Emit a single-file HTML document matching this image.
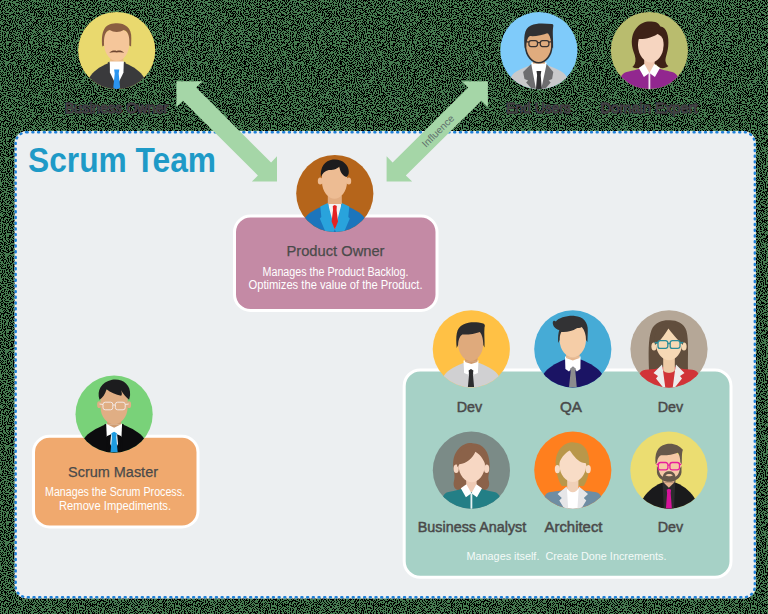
<!DOCTYPE html>
<html lang="en"><head><meta charset="utf-8"><title>Scrum Team</title>
<style>html,body{margin:0;padding:0;background:#000;}body{width:768px;height:614px;overflow:hidden;font-family:"Liberation Sans", sans-serif;}svg{display:block}</style>
</head><body>
<svg width="768" height="614" viewBox="0 0 768 614" font-family='"Liberation Sans", sans-serif'>
<defs>
<clipPath id="cc"><circle r="38.6"/></clipPath>
</defs>
<pattern id="nzp" width="96" height="96" patternUnits="userSpaceOnUse"><rect width="96" height="96" fill="#467a50"/><path d="M0 0.5h2M9 0.5h2M13 0.5h3M18 0.5h1M22 0.5h1M24 0.5h2M27 0.5h2M30 0.5h1M36 0.5h1M39 0.5h1M41 0.5h1M44 0.5h1M46 0.5h1M49 0.5h1M51 0.5h1M53 0.5h1M55 0.5h1M58 0.5h1M60 0.5h1M63 0.5h1M65 0.5h1M68 0.5h1M71 0.5h1M73 0.5h1M75 0.5h4M80 0.5h2M84 0.5h2M90 0.5h3M94 0.5h1M0 1.5h1M4 1.5h2M7 1.5h1M12 1.5h1M19 1.5h3M24 1.5h1M26 1.5h1M29 1.5h1M32 1.5h1M41 1.5h1M45 1.5h1M47 1.5h1M49 1.5h1M51 1.5h1M53 1.5h1M55 1.5h1M57 1.5h1M62 1.5h1M65 1.5h1M67 1.5h2M70 1.5h1M72 1.5h1M75 1.5h1M77 1.5h1M79 1.5h1M86 1.5h1M88 1.5h1M92 1.5h1M94 1.5h1M2 2.5h1M4 2.5h1M9 2.5h1M16 2.5h3M21 2.5h1M23 2.5h1M25 2.5h1M27 2.5h1M30 2.5h2M34 2.5h1M36 2.5h1M38 2.5h1M44 2.5h1M48 2.5h1M51 2.5h1M54 2.5h1M57 2.5h2M60 2.5h1M62 2.5h2M68 2.5h1M73 2.5h2M80 2.5h2M83 2.5h1M85 2.5h1M88 2.5h1M90 2.5h1M93 2.5h1M95 2.5h1M1 3.5h1M4 3.5h1M6 3.5h1M8 3.5h3M12 3.5h1M19 3.5h1M21 3.5h1M26 3.5h1M28 3.5h1M31 3.5h1M33 3.5h1M35 3.5h2M39 3.5h2M42 3.5h2M45 3.5h1M50 3.5h1M53 3.5h1M56 3.5h2M59 3.5h1M61 3.5h1M65 3.5h1M67 3.5h1M70 3.5h1M75 3.5h1M80 3.5h3M87 3.5h1M89 3.5h2M93 3.5h2M1 4.5h3M8 4.5h1M10 4.5h1M13 4.5h2M21 4.5h1M24 4.5h1M30 4.5h2M34 4.5h1M36 4.5h3M40 4.5h1M45 4.5h1M47 4.5h2M50 4.5h1M54 4.5h1M57 4.5h1M62 4.5h1M64 4.5h2M67 4.5h1M70 4.5h3M75 4.5h1M78 4.5h2M83 4.5h1M86 4.5h2M91 4.5h2M94 4.5h1M0 5.5h1M4 5.5h1M6 5.5h1M8 5.5h1M10 5.5h1M14 5.5h1M18 5.5h2M22 5.5h2M26 5.5h2M29 5.5h1M33 5.5h1M38 5.5h1M41 5.5h1M43 5.5h1M50 5.5h1M53 5.5h1M58 5.5h1M63 5.5h1M68 5.5h2M73 5.5h1M75 5.5h2M78 5.5h1M80 5.5h1M82 5.5h3M87 5.5h1M90 5.5h1M92 5.5h1M0 6.5h1M3 6.5h2M11 6.5h1M13 6.5h1M15 6.5h2M18 6.5h1M20 6.5h1M24 6.5h1M27 6.5h1M31 6.5h1M34 6.5h1M37 6.5h1M43 6.5h1M45 6.5h1M47 6.5h2M50 6.5h2M53 6.5h1M55 6.5h1M59 6.5h1M61 6.5h1M64 6.5h2M67 6.5h2M73 6.5h2M79 6.5h1M81 6.5h1M86 6.5h1M89 6.5h1M95 6.5h1M0 7.5h1M2 7.5h1M6 7.5h2M12 7.5h1M14 7.5h1M17 7.5h1M21 7.5h1M25 7.5h2M30 7.5h2M33 7.5h1M40 7.5h3M44 7.5h1M46 7.5h1M51 7.5h1M53 7.5h1M56 7.5h1M59 7.5h1M63 7.5h1M65 7.5h5M78 7.5h2M82 7.5h2M86 7.5h1M88 7.5h3M92 7.5h3M2 8.5h1M5 8.5h1M9 8.5h1M11 8.5h1M13 8.5h1M16 8.5h1M18 8.5h2M22 8.5h1M24 8.5h1M27 8.5h1M30 8.5h1M32 8.5h2M36 8.5h1M38 8.5h2M42 8.5h1M44 8.5h3M49 8.5h1M54 8.5h4M62 8.5h1M70 8.5h5M77 8.5h1M84 8.5h1M88 8.5h1M94 8.5h1M0 9.5h1M2 9.5h2M7 9.5h2M10 9.5h1M14 9.5h1M16 9.5h1M19 9.5h3M23 9.5h1M26 9.5h1M28 9.5h1M30 9.5h1M32 9.5h1M34 9.5h5M40 9.5h2M44 9.5h1M48 9.5h1M51 9.5h1M53 9.5h2M56 9.5h1M59 9.5h2M63 9.5h1M65 9.5h1M67 9.5h3M74 9.5h1M76 9.5h1M81 9.5h5M87 9.5h1M91 9.5h3M1 10.5h2M4 10.5h1M7 10.5h1M10 10.5h2M15 10.5h2M19 10.5h1M25 10.5h4M31 10.5h1M33 10.5h1M35 10.5h1M39 10.5h1M49 10.5h1M51 10.5h2M56 10.5h1M58 10.5h1M61 10.5h2M65 10.5h1M67 10.5h1M72 10.5h1M74 10.5h2M77 10.5h2M80 10.5h1M82 10.5h1M87 10.5h1M89 10.5h2M93 10.5h1M1 11.5h1M5 11.5h1M9 11.5h2M12 11.5h1M23 11.5h2M27 11.5h1M30 11.5h1M32 11.5h1M34 11.5h1M37 11.5h3M41 11.5h3M46 11.5h1M48 11.5h1M52 11.5h2M57 11.5h2M65 11.5h1M67 11.5h1M70 11.5h1M76 11.5h2M80 11.5h1M82 11.5h1M86 11.5h2M91 11.5h2M95 11.5h1M2 12.5h1M4 12.5h1M14 12.5h1M16 12.5h1M18 12.5h1M22 12.5h1M28 12.5h1M30 12.5h3M34 12.5h2M38 12.5h1M40 12.5h1M43 12.5h1M46 12.5h1M48 12.5h1M51 12.5h1M57 12.5h1M59 12.5h1M61 12.5h1M63 12.5h2M66 12.5h2M69 12.5h1M71 12.5h2M75 12.5h1M77 12.5h2M83 12.5h1M85 12.5h2M88 12.5h1M93 12.5h2M1 13.5h2M5 13.5h4M13 13.5h1M16 13.5h4M21 13.5h1M24 13.5h1M27 13.5h1M34 13.5h1M36 13.5h1M39 13.5h4M44 13.5h1M46 13.5h1M48 13.5h2M51 13.5h1M53 13.5h3M58 13.5h1M61 13.5h1M65 13.5h1M67 13.5h1M72 13.5h3M79 13.5h1M81 13.5h1M84 13.5h1M89 13.5h1M94 13.5h1M0 14.5h1M3 14.5h1M11 14.5h4M19 14.5h1M22 14.5h1M24 14.5h1M26 14.5h1M28 14.5h2M34 14.5h1M36 14.5h1M41 14.5h1M43 14.5h1M45 14.5h1M48 14.5h2M52 14.5h1M57 14.5h2M60 14.5h1M62 14.5h1M64 14.5h1M68 14.5h2M71 14.5h2M77 14.5h4M82 14.5h1M84 14.5h1M86 14.5h1M89 14.5h3M1 15.5h2M4 15.5h2M7 15.5h1M9 15.5h2M13 15.5h1M15 15.5h1M18 15.5h1M20 15.5h3M26 15.5h1M31 15.5h1M33 15.5h2M36 15.5h1M38 15.5h1M40 15.5h2M43 15.5h1M46 15.5h1M49 15.5h2M53 15.5h4M58 15.5h1M62 15.5h2M65 15.5h1M67 15.5h1M73 15.5h2M79 15.5h1M87 15.5h1M89 15.5h4M94 15.5h2M1 16.5h1M4 16.5h3M9 16.5h1M16 16.5h1M19 16.5h1M23 16.5h1M25 16.5h1M28 16.5h2M36 16.5h1M38 16.5h3M42 16.5h2M45 16.5h1M47 16.5h2M50 16.5h2M56 16.5h2M61 16.5h1M63 16.5h1M65 16.5h1M67 16.5h1M70 16.5h2M76 16.5h1M78 16.5h1M80 16.5h2M83 16.5h1M88 16.5h1M93 16.5h2M1 17.5h2M5 17.5h1M7 17.5h1M12 17.5h1M15 17.5h1M18 17.5h1M21 17.5h1M24 17.5h1M27 17.5h1M30 17.5h2M35 17.5h1M37 17.5h1M41 17.5h2M51 17.5h1M53 17.5h1M56 17.5h1M58 17.5h3M62 17.5h1M65 17.5h2M69 17.5h1M73 17.5h2M78 17.5h1M83 17.5h3M90 17.5h1M92 17.5h1M0 18.5h1M5 18.5h1M7 18.5h1M9 18.5h3M15 18.5h1M20 18.5h1M22 18.5h2M27 18.5h2M34 18.5h1M41 18.5h1M44 18.5h1M46 18.5h1M49 18.5h1M51 18.5h1M53 18.5h1M63 18.5h2M73 18.5h2M76 18.5h1M79 18.5h2M84 18.5h1M86 18.5h6M94 18.5h1M1 19.5h2M8 19.5h1M11 19.5h1M13 19.5h1M15 19.5h1M17 19.5h2M21 19.5h1M24 19.5h2M30 19.5h2M35 19.5h1M37 19.5h4M43 19.5h2M47 19.5h1M53 19.5h1M55 19.5h1M57 19.5h1M66 19.5h1M69 19.5h4M75 19.5h1M77 19.5h2M81 19.5h1M84 19.5h1M86 19.5h1M89 19.5h1M91 19.5h2M95 19.5h1M0 20.5h1M3 20.5h3M7 20.5h1M10 20.5h1M12 20.5h1M15 20.5h1M17 20.5h1M20 20.5h1M25 20.5h1M30 20.5h1M36 20.5h2M41 20.5h1M47 20.5h1M49 20.5h1M52 20.5h3M59 20.5h1M62 20.5h1M64 20.5h1M66 20.5h3M75 20.5h1M78 20.5h1M84 20.5h1M88 20.5h1M91 20.5h1M94 20.5h1M2 21.5h1M5 21.5h1M8 21.5h3M12 21.5h1M14 21.5h1M16 21.5h1M19 21.5h2M22 21.5h1M25 21.5h1M28 21.5h2M31 21.5h1M33 21.5h1M36 21.5h2M40 21.5h1M44 21.5h3M48 21.5h1M51 21.5h1M56 21.5h6M65 21.5h1M67 21.5h1M70 21.5h1M72 21.5h1M74 21.5h1M76 21.5h2M81 21.5h2M85 21.5h1M87 21.5h1M89 21.5h1M92 21.5h1M4 22.5h1M6 22.5h1M9 22.5h2M12 22.5h1M14 22.5h1M17 22.5h1M19 22.5h1M21 22.5h1M23 22.5h2M26 22.5h2M32 22.5h1M34 22.5h3M38 22.5h1M41 22.5h1M46 22.5h1M48 22.5h1M50 22.5h2M54 22.5h2M62 22.5h1M64 22.5h1M68 22.5h1M75 22.5h2M78 22.5h1M81 22.5h1M84 22.5h1M87 22.5h1M90 22.5h1M94 22.5h1M3 23.5h1M5 23.5h1M9 23.5h1M11 23.5h1M15 23.5h1M19 23.5h3M28 23.5h1M33 23.5h2M36 23.5h2M40 23.5h1M42 23.5h4M48 23.5h1M50 23.5h1M52 23.5h1M54 23.5h1M57 23.5h1M61 23.5h3M65 23.5h1M67 23.5h2M70 23.5h1M73 23.5h2M76 23.5h1M78 23.5h1M81 23.5h4M88 23.5h1M90 23.5h1M95 23.5h1M0 24.5h1M4 24.5h4M11 24.5h1M13 24.5h1M15 24.5h1M21 24.5h1M25 24.5h1M28 24.5h1M31 24.5h1M33 24.5h1M35 24.5h1M38 24.5h1M40 24.5h1M44 24.5h2M48 24.5h1M51 24.5h1M53 24.5h3M57 24.5h1M60 24.5h1M62 24.5h1M67 24.5h1M69 24.5h2M72 24.5h1M74 24.5h1M76 24.5h2M79 24.5h2M83 24.5h2M86 24.5h1M88 24.5h1M92 24.5h3M1 25.5h4M7 25.5h3M13 25.5h1M16 25.5h2M22 25.5h1M25 25.5h1M29 25.5h1M31 25.5h1M33 25.5h1M35 25.5h1M38 25.5h1M41 25.5h1M43 25.5h1M46 25.5h1M49 25.5h1M52 25.5h1M57 25.5h1M59 25.5h1M61 25.5h1M66 25.5h2M69 25.5h1M75 25.5h1M77 25.5h1M81 25.5h1M85 25.5h1M87 25.5h1M90 25.5h2M1 26.5h1M3 26.5h1M10 26.5h2M13 26.5h1M16 26.5h1M19 26.5h1M21 26.5h1M23 26.5h1M26 26.5h3M30 26.5h1M32 26.5h1M36 26.5h1M39 26.5h1M42 26.5h2M45 26.5h1M48 26.5h1M52 26.5h1M54 26.5h1M56 26.5h2M60 26.5h1M62 26.5h1M66 26.5h1M68 26.5h1M73 26.5h1M79 26.5h1M81 26.5h1M86 26.5h2M89 26.5h1M94 26.5h1M0 27.5h1M3 27.5h1M6 27.5h2M9 27.5h2M15 27.5h1M17 27.5h1M22 27.5h1M25 27.5h1M29 27.5h1M31 27.5h1M34 27.5h1M37 27.5h1M40 27.5h1M44 27.5h1M50 27.5h1M52 27.5h1M55 27.5h2M59 27.5h1M63 27.5h3M67 27.5h2M70 27.5h1M72 27.5h1M74 27.5h1M76 27.5h3M80 27.5h2M83 27.5h1M85 27.5h1M88 27.5h1M90 27.5h1M92 27.5h1M0 28.5h1M5 28.5h1M7 28.5h1M9 28.5h1M13 28.5h3M17 28.5h1M20 28.5h1M24 28.5h2M27 28.5h2M30 28.5h4M36 28.5h1M38 28.5h1M41 28.5h1M43 28.5h2M46 28.5h2M52 28.5h1M54 28.5h1M58 28.5h1M61 28.5h1M67 28.5h1M69 28.5h2M73 28.5h1M78 28.5h1M80 28.5h2M83 28.5h1M85 28.5h1M87 28.5h1M89 28.5h2M92 28.5h4M0 29.5h1M2 29.5h2M5 29.5h1M8 29.5h1M11 29.5h3M15 29.5h1M17 29.5h3M23 29.5h1M28 29.5h1M32 29.5h1M35 29.5h1M39 29.5h3M45 29.5h1M49 29.5h2M53 29.5h1M56 29.5h2M59 29.5h1M62 29.5h1M67 29.5h2M70 29.5h1M72 29.5h1M75 29.5h1M78 29.5h1M84 29.5h3M90 29.5h3M94 29.5h1M3 30.5h3M7 30.5h2M10 30.5h1M12 30.5h1M14 30.5h1M16 30.5h1M20 30.5h2M25 30.5h2M28 30.5h1M30 30.5h1M35 30.5h2M38 30.5h1M42 30.5h2M46 30.5h1M55 30.5h1M57 30.5h2M60 30.5h2M64 30.5h2M67 30.5h1M69 30.5h1M74 30.5h1M78 30.5h1M85 30.5h1M87 30.5h2M90 30.5h1M92 30.5h2M0 31.5h1M6 31.5h1M9 31.5h1M12 31.5h1M16 31.5h1M18 31.5h2M23 31.5h1M25 31.5h1M27 31.5h1M29 31.5h3M37 31.5h1M42 31.5h2M50 31.5h1M52 31.5h3M59 31.5h1M63 31.5h1M66 31.5h3M70 31.5h1M72 31.5h1M75 31.5h2M78 31.5h1M80 31.5h3M85 31.5h1M89 31.5h1M94 31.5h1M2 32.5h1M4 32.5h1M9 32.5h3M13 32.5h2M20 32.5h1M23 32.5h3M28 32.5h1M32 32.5h1M36 32.5h1M38 32.5h1M40 32.5h1M45 32.5h1M48 32.5h1M52 32.5h1M55 32.5h1M61 32.5h1M64 32.5h1M68 32.5h1M71 32.5h1M73 32.5h2M76 32.5h1M78 32.5h1M82 32.5h2M85 32.5h1M88 32.5h1M91 32.5h1M95 32.5h1M0 33.5h1M2 33.5h1M5 33.5h1M9 33.5h1M11 33.5h1M15 33.5h1M18 33.5h1M20 33.5h1M23 33.5h1M26 33.5h1M30 33.5h1M34 33.5h1M37 33.5h1M39 33.5h1M44 33.5h1M46 33.5h2M51 33.5h1M53 33.5h2M57 33.5h1M60 33.5h1M62 33.5h1M65 33.5h1M67 33.5h1M70 33.5h1M74 33.5h1M76 33.5h1M85 33.5h1M87 33.5h1M90 33.5h1M93 33.5h2M2 34.5h1M4 34.5h2M8 34.5h1M10 34.5h1M13 34.5h1M17 34.5h1M23 34.5h2M26 34.5h1M28 34.5h1M31 34.5h1M33 34.5h1M35 34.5h1M38 34.5h3M46 34.5h1M54 34.5h2M60 34.5h1M67 34.5h2M71 34.5h1M73 34.5h3M79 34.5h3M83 34.5h2M88 34.5h1M91 34.5h1M0 35.5h1M4 35.5h1M8 35.5h1M11 35.5h2M14 35.5h1M19 35.5h1M21 35.5h2M26 35.5h2M29 35.5h2M37 35.5h2M41 35.5h1M43 35.5h4M48 35.5h2M51 35.5h2M56 35.5h1M60 35.5h1M62 35.5h1M64 35.5h2M68 35.5h1M70 35.5h1M73 35.5h1M75 35.5h1M77 35.5h1M79 35.5h1M83 35.5h1M86 35.5h1M88 35.5h2M91 35.5h1M93 35.5h1M2 36.5h1M4 36.5h1M8 36.5h1M10 36.5h1M12 36.5h1M15 36.5h3M19 36.5h1M22 36.5h1M24 36.5h1M28 36.5h2M34 36.5h3M39 36.5h1M42 36.5h1M44 36.5h1M49 36.5h1M51 36.5h1M53 36.5h1M56 36.5h1M58 36.5h2M61 36.5h3M65 36.5h1M71 36.5h1M73 36.5h1M75 36.5h1M77 36.5h1M79 36.5h1M82 36.5h1M85 36.5h1M88 36.5h1M92 36.5h1M94 36.5h1M0 37.5h1M2 37.5h1M6 37.5h1M8 37.5h1M13 37.5h1M15 37.5h1M22 37.5h1M24 37.5h1M26 37.5h1M28 37.5h1M30 37.5h1M33 37.5h1M38 37.5h1M40 37.5h2M47 37.5h1M50 37.5h1M57 37.5h2M63 37.5h2M68 37.5h1M72 37.5h2M75 37.5h1M80 37.5h1M82 37.5h2M85 37.5h1M88 37.5h2M92 37.5h3M2 38.5h1M4 38.5h2M7 38.5h1M9 38.5h4M15 38.5h1M19 38.5h1M23 38.5h1M26 38.5h3M30 38.5h1M32 38.5h1M35 38.5h2M39 38.5h1M41 38.5h1M43 38.5h1M45 38.5h1M47 38.5h2M51 38.5h1M53 38.5h3M58 38.5h1M61 38.5h1M69 38.5h1M71 38.5h1M73 38.5h1M75 38.5h3M84 38.5h1M91 38.5h2M94 38.5h2M0 39.5h1M2 39.5h1M4 39.5h1M7 39.5h1M11 39.5h1M13 39.5h1M17 39.5h1M20 39.5h1M24 39.5h2M28 39.5h1M34 39.5h2M38 39.5h1M42 39.5h1M44 39.5h1M47 39.5h1M51 39.5h1M59 39.5h2M63 39.5h2M66 39.5h1M68 39.5h1M71 39.5h2M76 39.5h1M79 39.5h3M84 39.5h3M88 39.5h2M93 39.5h1M2 40.5h1M5 40.5h1M7 40.5h5M14 40.5h2M18 40.5h5M25 40.5h2M28 40.5h2M31 40.5h1M36 40.5h1M38 40.5h1M41 40.5h1M44 40.5h1M46 40.5h1M49 40.5h2M53 40.5h1M60 40.5h3M64 40.5h1M67 40.5h3M72 40.5h1M75 40.5h1M80 40.5h3M85 40.5h1M92 40.5h1M1 41.5h1M3 41.5h3M11 41.5h1M13 41.5h2M16 41.5h1M21 41.5h1M24 41.5h1M28 41.5h1M33 41.5h1M37 41.5h1M39 41.5h1M42 41.5h3M48 41.5h1M51 41.5h1M53 41.5h6M61 41.5h3M66 41.5h2M69 41.5h1M71 41.5h2M79 41.5h1M85 41.5h2M89 41.5h1M91 41.5h1M0 42.5h2M4 42.5h1M12 42.5h1M15 42.5h1M17 42.5h2M20 42.5h1M22 42.5h1M24 42.5h1M28 42.5h1M33 42.5h2M36 42.5h1M38 42.5h1M40 42.5h2M44 42.5h1M48 42.5h1M53 42.5h1M58 42.5h2M61 42.5h1M64 42.5h1M66 42.5h1M68 42.5h1M74 42.5h1M77 42.5h3M83 42.5h2M87 42.5h1M89 42.5h4M94 42.5h1M3 43.5h1M5 43.5h1M9 43.5h3M21 43.5h1M23 43.5h3M28 43.5h2M33 43.5h2M39 43.5h1M44 43.5h3M52 43.5h1M61 43.5h1M64 43.5h1M66 43.5h2M70 43.5h1M72 43.5h1M75 43.5h1M77 43.5h1M80 43.5h1M82 43.5h1M85 43.5h1M90 43.5h1M92 43.5h1M95 43.5h1M2 44.5h1M5 44.5h1M9 44.5h2M13 44.5h1M16 44.5h2M21 44.5h1M23 44.5h1M27 44.5h1M29 44.5h2M32 44.5h1M38 44.5h2M41 44.5h1M44 44.5h1M48 44.5h3M52 44.5h2M56 44.5h1M59 44.5h1M62 44.5h1M66 44.5h1M68 44.5h1M70 44.5h1M73 44.5h2M76 44.5h1M80 44.5h1M82 44.5h1M84 44.5h2M87 44.5h1M89 44.5h1M94 44.5h2M0 45.5h1M4 45.5h2M7 45.5h4M12 45.5h1M15 45.5h1M21 45.5h2M25 45.5h1M27 45.5h1M30 45.5h1M34 45.5h3M39 45.5h2M42 45.5h2M50 45.5h1M55 45.5h1M57 45.5h5M63 45.5h2M74 45.5h1M76 45.5h1M78 45.5h2M82 45.5h1M86 45.5h1M88 45.5h1M94 45.5h2M2 46.5h1M5 46.5h1M9 46.5h1M13 46.5h1M17 46.5h1M21 46.5h1M24 46.5h1M29 46.5h2M33 46.5h1M42 46.5h1M44 46.5h2M48 46.5h1M53 46.5h1M59 46.5h1M61 46.5h1M66 46.5h1M69 46.5h2M73 46.5h1M75 46.5h1M81 46.5h1M83 46.5h1M91 46.5h4M0 47.5h3M5 47.5h1M8 47.5h1M11 47.5h1M14 47.5h1M16 47.5h2M19 47.5h1M22 47.5h1M27 47.5h1M30 47.5h1M32 47.5h1M34 47.5h1M36 47.5h1M39 47.5h1M41 47.5h2M44 47.5h4M49 47.5h1M51 47.5h1M58 47.5h2M61 47.5h1M63 47.5h1M65 47.5h1M68 47.5h1M73 47.5h2M76 47.5h1M78 47.5h1M84 47.5h2M87 47.5h1M89 47.5h2M93 47.5h1M95 47.5h1M2 48.5h1M6 48.5h1M9 48.5h1M12 48.5h2M15 48.5h1M17 48.5h1M19 48.5h1M21 48.5h1M23 48.5h1M25 48.5h1M27 48.5h1M30 48.5h1M32 48.5h1M34 48.5h2M38 48.5h1M40 48.5h1M42 48.5h2M46 48.5h1M49 48.5h1M51 48.5h1M53 48.5h2M56 48.5h2M59 48.5h1M65 48.5h1M69 48.5h2M76 48.5h1M79 48.5h2M86 48.5h1M89 48.5h1M91 48.5h2M95 48.5h1M3 49.5h1M7 49.5h1M9 49.5h1M11 49.5h1M13 49.5h1M15 49.5h2M19 49.5h1M22 49.5h1M25 49.5h1M27 49.5h1M31 49.5h1M37 49.5h5M45 49.5h1M47 49.5h2M51 49.5h1M54 49.5h2M58 49.5h1M62 49.5h1M65 49.5h2M68 49.5h1M70 49.5h1M73 49.5h2M76 49.5h1M79 49.5h1M81 49.5h1M85 49.5h3M89 49.5h1M92 49.5h3M0 50.5h2M4 50.5h2M8 50.5h2M11 50.5h3M15 50.5h1M22 50.5h1M28 50.5h3M32 50.5h2M36 50.5h1M38 50.5h1M41 50.5h4M46 50.5h1M48 50.5h2M52 50.5h1M56 50.5h4M61 50.5h1M63 50.5h1M68 50.5h1M71 50.5h2M75 50.5h1M82 50.5h1M85 50.5h1M87 50.5h1M90 50.5h1M92 50.5h1M95 50.5h1M1 51.5h2M4 51.5h1M6 51.5h1M10 51.5h1M16 51.5h1M19 51.5h2M22 51.5h1M24 51.5h1M27 51.5h1M31 51.5h2M35 51.5h1M38 51.5h1M42 51.5h1M45 51.5h1M48 51.5h1M50 51.5h1M52 51.5h1M54 51.5h2M58 51.5h1M62 51.5h1M64 51.5h1M67 51.5h1M69 51.5h1M73 51.5h1M76 51.5h1M78 51.5h1M80 51.5h1M82 51.5h3M86 51.5h1M88 51.5h1M94 51.5h1M0 52.5h1M2 52.5h1M4 52.5h2M8 52.5h2M14 52.5h2M17 52.5h2M21 52.5h1M24 52.5h1M27 52.5h2M31 52.5h1M33 52.5h3M37 52.5h1M39 52.5h1M41 52.5h1M47 52.5h1M49 52.5h1M52 52.5h1M54 52.5h3M59 52.5h2M62 52.5h1M65 52.5h1M67 52.5h2M71 52.5h2M76 52.5h2M80 52.5h2M86 52.5h1M88 52.5h1M90 52.5h1M4 53.5h1M6 53.5h2M11 53.5h4M16 53.5h1M19 53.5h1M21 53.5h1M23 53.5h2M31 53.5h1M35 53.5h1M38 53.5h2M45 53.5h1M49 53.5h2M53 53.5h1M57 53.5h4M64 53.5h2M70 53.5h1M73 53.5h2M76 53.5h1M78 53.5h1M81 53.5h1M83 53.5h1M85 53.5h2M88 53.5h1M91 53.5h1M94 53.5h1M0 54.5h2M3 54.5h1M8 54.5h1M10 54.5h1M13 54.5h1M25 54.5h1M28 54.5h1M30 54.5h1M32 54.5h1M34 54.5h2M37 54.5h2M40 54.5h1M42 54.5h1M44 54.5h2M48 54.5h1M54 54.5h1M57 54.5h1M61 54.5h2M64 54.5h1M67 54.5h2M70 54.5h1M75 54.5h1M78 54.5h1M80 54.5h1M87 54.5h1M89 54.5h1M95 54.5h1M0 55.5h1M4 55.5h1M6 55.5h1M8 55.5h1M11 55.5h1M13 55.5h1M15 55.5h1M17 55.5h1M19 55.5h1M22 55.5h1M24 55.5h2M29 55.5h1M31 55.5h1M33 55.5h1M36 55.5h1M40 55.5h2M43 55.5h1M46 55.5h1M48 55.5h1M51 55.5h1M56 55.5h1M63 55.5h1M67 55.5h1M71 55.5h1M73 55.5h1M79 55.5h1M81 55.5h2M85 55.5h1M87 55.5h1M94 55.5h1M1 56.5h2M4 56.5h1M6 56.5h2M11 56.5h2M16 56.5h1M18 56.5h1M20 56.5h1M23 56.5h1M29 56.5h1M32 56.5h1M35 56.5h1M39 56.5h1M43 56.5h1M45 56.5h1M47 56.5h1M49 56.5h2M52 56.5h3M57 56.5h4M62 56.5h1M65 56.5h1M68 56.5h4M73 56.5h1M76 56.5h1M78 56.5h1M80 56.5h1M84 56.5h1M88 56.5h1M90 56.5h3M0 57.5h1M6 57.5h1M8 57.5h1M11 57.5h2M14 57.5h1M19 57.5h1M21 57.5h1M23 57.5h1M26 57.5h1M28 57.5h1M31 57.5h1M33 57.5h1M37 57.5h1M39 57.5h2M42 57.5h1M44 57.5h1M47 57.5h1M50 57.5h1M54 57.5h1M59 57.5h1M65 57.5h1M67 57.5h1M74 57.5h1M77 57.5h1M81 57.5h1M83 57.5h1M86 57.5h1M89 57.5h1M91 57.5h1M95 57.5h1M0 58.5h1M2 58.5h2M7 58.5h2M10 58.5h3M15 58.5h1M18 58.5h1M20 58.5h1M25 58.5h1M30 58.5h1M32 58.5h1M34 58.5h1M37 58.5h2M44 58.5h1M46 58.5h1M48 58.5h1M50 58.5h1M52 58.5h1M54 58.5h4M60 58.5h2M63 58.5h2M66 58.5h1M68 58.5h2M71 58.5h1M76 58.5h1M78 58.5h2M81 58.5h1M83 58.5h1M88 58.5h2M93 58.5h1M0 59.5h1M3 59.5h3M8 59.5h2M14 59.5h1M16 59.5h2M21 59.5h1M27 59.5h3M31 59.5h1M35 59.5h1M38 59.5h3M42 59.5h2M45 59.5h1M49 59.5h2M53 59.5h2M56 59.5h1M58 59.5h1M61 59.5h1M64 59.5h1M67 59.5h2M70 59.5h2M74 59.5h1M77 59.5h1M81 59.5h3M85 59.5h1M90 59.5h2M93 59.5h2M1 60.5h2M6 60.5h3M12 60.5h3M18 60.5h4M23 60.5h3M27 60.5h1M31 60.5h1M33 60.5h2M37 60.5h1M40 60.5h2M43 60.5h2M48 60.5h2M52 60.5h1M56 60.5h1M58 60.5h2M62 60.5h2M66 60.5h1M69 60.5h1M72 60.5h1M76 60.5h1M78 60.5h1M80 60.5h2M86 60.5h1M88 60.5h2M93 60.5h1M3 61.5h1M10 61.5h3M15 61.5h1M17 61.5h2M20 61.5h1M25 61.5h1M28 61.5h2M31 61.5h2M36 61.5h2M39 61.5h1M41 61.5h1M43 61.5h2M49 61.5h1M51 61.5h4M57 61.5h2M60 61.5h1M65 61.5h1M67 61.5h1M70 61.5h1M73 61.5h1M76 61.5h1M78 61.5h2M84 61.5h1M89 61.5h1M91 61.5h1M94 61.5h1M0 62.5h1M2 62.5h1M4 62.5h1M16 62.5h1M18 62.5h3M22 62.5h1M26 62.5h2M32 62.5h1M35 62.5h1M37 62.5h1M39 62.5h1M45 62.5h1M47 62.5h2M50 62.5h1M52 62.5h2M55 62.5h1M61 62.5h1M63 62.5h2M69 62.5h1M71 62.5h1M73 62.5h1M76 62.5h2M79 62.5h1M81 62.5h1M85 62.5h2M88 62.5h1M90 62.5h1M92 62.5h2M3 63.5h1M9 63.5h2M16 63.5h1M18 63.5h1M21 63.5h1M24 63.5h2M27 63.5h1M30 63.5h2M33 63.5h1M35 63.5h2M38 63.5h1M42 63.5h1M45 63.5h1M47 63.5h1M51 63.5h3M56 63.5h1M59 63.5h1M61 63.5h3M67 63.5h1M69 63.5h1M71 63.5h2M74 63.5h2M80 63.5h1M85 63.5h1M90 63.5h2M93 63.5h1M1 64.5h1M3 64.5h2M8 64.5h1M11 64.5h1M13 64.5h1M18 64.5h2M24 64.5h1M26 64.5h1M30 64.5h1M34 64.5h1M39 64.5h2M42 64.5h1M44 64.5h1M46 64.5h1M48 64.5h2M52 64.5h2M57 64.5h1M59 64.5h1M64 64.5h3M69 64.5h1M72 64.5h1M75 64.5h1M77 64.5h1M80 64.5h2M83 64.5h1M85 64.5h1M87 64.5h1M90 64.5h1M92 64.5h2M1 65.5h2M4 65.5h1M7 65.5h1M10 65.5h1M12 65.5h1M16 65.5h2M21 65.5h3M28 65.5h1M32 65.5h1M34 65.5h1M39 65.5h1M41 65.5h1M44 65.5h1M46 65.5h3M50 65.5h1M54 65.5h1M56 65.5h2M60 65.5h4M65 65.5h1M68 65.5h1M71 65.5h1M77 65.5h3M83 65.5h1M85 65.5h2M88 65.5h1M91 65.5h1M93 65.5h1M95 65.5h1M0 66.5h1M3 66.5h1M7 66.5h2M10 66.5h1M12 66.5h2M15 66.5h1M17 66.5h2M20 66.5h1M24 66.5h1M26 66.5h1M28 66.5h1M31 66.5h1M36 66.5h2M41 66.5h2M44 66.5h1M49 66.5h1M52 66.5h5M59 66.5h1M62 66.5h2M66 66.5h1M72 66.5h3M76 66.5h2M81 66.5h1M84 66.5h1M86 66.5h1M89 66.5h1M91 66.5h1M93 66.5h1M2 67.5h1M4 67.5h2M8 67.5h1M10 67.5h1M12 67.5h1M17 67.5h1M20 67.5h1M23 67.5h3M30 67.5h1M34 67.5h1M38 67.5h2M42 67.5h1M45 67.5h1M47 67.5h1M50 67.5h3M56 67.5h1M61 67.5h1M64 67.5h1M66 67.5h2M69 67.5h3M74 67.5h1M78 67.5h3M84 67.5h1M87 67.5h2M90 67.5h1M93 67.5h1M1 68.5h3M6 68.5h1M8 68.5h1M10 68.5h1M12 68.5h1M14 68.5h1M16 68.5h1M18 68.5h1M20 68.5h2M23 68.5h5M33 68.5h1M35 68.5h2M39 68.5h3M43 68.5h2M52 68.5h1M56 68.5h1M59 68.5h1M62 68.5h1M65 68.5h2M70 68.5h1M74 68.5h1M78 68.5h1M81 68.5h3M85 68.5h2M88 68.5h1M92 68.5h2M3 69.5h1M6 69.5h1M8 69.5h1M12 69.5h2M15 69.5h1M18 69.5h1M21 69.5h1M23 69.5h1M25 69.5h1M29 69.5h4M35 69.5h2M42 69.5h1M45 69.5h1M47 69.5h2M50 69.5h1M52 69.5h2M55 69.5h1M57 69.5h1M59 69.5h1M61 69.5h1M63 69.5h2M68 69.5h2M71 69.5h1M74 69.5h5M80 69.5h1M82 69.5h1M84 69.5h1M86 69.5h2M90 69.5h1M0 70.5h1M3 70.5h1M5 70.5h1M7 70.5h1M9 70.5h1M12 70.5h1M14 70.5h1M17 70.5h1M19 70.5h1M21 70.5h1M23 70.5h2M26 70.5h1M31 70.5h2M34 70.5h1M38 70.5h2M44 70.5h1M47 70.5h3M51 70.5h1M55 70.5h1M57 70.5h1M62 70.5h1M65 70.5h1M67 70.5h1M69 70.5h4M75 70.5h1M77 70.5h1M79 70.5h3M84 70.5h1M87 70.5h2M90 70.5h1M95 70.5h1M4 71.5h2M10 71.5h2M15 71.5h1M19 71.5h1M21 71.5h1M26 71.5h2M30 71.5h2M33 71.5h2M37 71.5h1M41 71.5h2M46 71.5h1M49 71.5h1M52 71.5h2M57 71.5h2M60 71.5h1M62 71.5h1M64 71.5h2M67 71.5h1M71 71.5h1M73 71.5h2M76 71.5h1M78 71.5h2M81 71.5h1M84 71.5h1M86 71.5h1M90 71.5h1M93 71.5h2M0 72.5h1M2 72.5h1M7 72.5h2M10 72.5h1M13 72.5h2M16 72.5h2M19 72.5h2M23 72.5h1M25 72.5h1M28 72.5h3M32 72.5h1M38 72.5h1M41 72.5h1M45 72.5h2M48 72.5h2M54 72.5h3M59 72.5h1M62 72.5h1M65 72.5h1M68 72.5h1M72 72.5h1M75 72.5h1M77 72.5h1M79 72.5h1M81 72.5h1M88 72.5h1M90 72.5h1M95 72.5h1M1 73.5h1M3 73.5h1M5 73.5h1M7 73.5h1M11 73.5h1M13 73.5h1M15 73.5h1M21 73.5h1M25 73.5h2M30 73.5h1M34 73.5h1M36 73.5h1M38 73.5h1M44 73.5h2M47 73.5h1M49 73.5h1M51 73.5h1M55 73.5h2M58 73.5h2M61 73.5h1M67 73.5h1M69 73.5h1M73 73.5h1M77 73.5h1M80 73.5h1M83 73.5h1M86 73.5h1M88 73.5h1M91 73.5h3M0 74.5h1M2 74.5h1M7 74.5h1M9 74.5h1M13 74.5h2M18 74.5h1M20 74.5h1M23 74.5h1M29 74.5h4M34 74.5h1M36 74.5h1M39 74.5h2M42 74.5h2M46 74.5h1M48 74.5h1M54 74.5h1M56 74.5h2M59 74.5h1M62 74.5h2M65 74.5h2M68 74.5h2M71 74.5h2M75 74.5h1M77 74.5h1M79 74.5h2M83 74.5h2M86 74.5h1M89 74.5h1M92 74.5h1M95 74.5h1M1 75.5h1M5 75.5h1M7 75.5h3M13 75.5h1M15 75.5h1M17 75.5h2M20 75.5h1M22 75.5h2M25 75.5h2M28 75.5h1M30 75.5h1M33 75.5h1M39 75.5h1M43 75.5h2M48 75.5h1M51 75.5h2M54 75.5h2M61 75.5h1M63 75.5h1M67 75.5h1M69 75.5h2M74 75.5h3M79 75.5h1M81 75.5h1M84 75.5h1M86 75.5h1M88 75.5h1M91 75.5h1M95 75.5h1M1 76.5h5M8 76.5h1M11 76.5h1M13 76.5h1M16 76.5h3M21 76.5h1M23 76.5h1M26 76.5h1M29 76.5h3M33 76.5h1M36 76.5h3M42 76.5h1M45 76.5h2M49 76.5h1M55 76.5h1M58 76.5h1M65 76.5h2M68 76.5h1M71 76.5h3M75 76.5h2M78 76.5h1M82 76.5h2M87 76.5h1M89 76.5h1M91 76.5h2M94 76.5h1M6 77.5h2M9 77.5h2M13 77.5h1M15 77.5h1M23 77.5h1M27 77.5h2M31 77.5h1M35 77.5h1M42 77.5h2M45 77.5h1M47 77.5h3M52 77.5h3M56 77.5h1M59 77.5h1M61 77.5h1M63 77.5h1M67 77.5h1M75 77.5h1M78 77.5h1M80 77.5h2M88 77.5h2M94 77.5h1M0 78.5h1M2 78.5h1M4 78.5h1M6 78.5h1M9 78.5h1M13 78.5h1M17 78.5h2M22 78.5h2M28 78.5h2M31 78.5h1M33 78.5h2M37 78.5h2M40 78.5h2M43 78.5h1M45 78.5h1M48 78.5h1M57 78.5h2M61 78.5h1M64 78.5h1M66 78.5h1M68 78.5h1M70 78.5h2M79 78.5h1M82 78.5h1M86 78.5h1M90 78.5h1M92 78.5h1M94 78.5h1M2 79.5h1M4 79.5h1M9 79.5h1M11 79.5h1M14 79.5h1M16 79.5h2M19 79.5h1M21 79.5h1M25 79.5h1M27 79.5h1M29 79.5h1M31 79.5h3M36 79.5h3M40 79.5h2M50 79.5h2M53 79.5h2M61 79.5h1M63 79.5h1M66 79.5h1M68 79.5h1M72 79.5h3M77 79.5h5M84 79.5h1M86 79.5h1M88 79.5h2M93 79.5h2M2 80.5h1M4 80.5h1M6 80.5h2M10 80.5h1M12 80.5h1M15 80.5h1M18 80.5h1M20 80.5h1M23 80.5h1M25 80.5h1M27 80.5h1M29 80.5h1M35 80.5h1M37 80.5h1M40 80.5h1M42 80.5h1M44 80.5h2M48 80.5h1M51 80.5h3M55 80.5h1M57 80.5h2M62 80.5h3M66 80.5h1M68 80.5h1M70 80.5h2M73 80.5h1M75 80.5h2M88 80.5h2M91 80.5h2M0 81.5h2M3 81.5h1M7 81.5h1M9 81.5h1M12 81.5h4M17 81.5h1M20 81.5h2M23 81.5h1M26 81.5h2M29 81.5h1M31 81.5h1M35 81.5h1M38 81.5h1M41 81.5h1M43 81.5h1M48 81.5h1M52 81.5h1M56 81.5h1M58 81.5h4M63 81.5h1M66 81.5h1M68 81.5h1M73 81.5h1M76 81.5h1M79 81.5h2M85 81.5h2M90 81.5h1M93 81.5h1M95 81.5h1M2 82.5h1M5 82.5h1M8 82.5h1M16 82.5h1M18 82.5h1M20 82.5h1M24 82.5h1M26 82.5h1M29 82.5h1M31 82.5h1M33 82.5h2M38 82.5h1M40 82.5h1M48 82.5h2M53 82.5h1M55 82.5h1M57 82.5h2M60 82.5h2M63 82.5h1M65 82.5h2M69 82.5h1M71 82.5h2M75 82.5h1M77 82.5h1M79 82.5h1M84 82.5h1M86 82.5h1M89 82.5h3M1 83.5h2M4 83.5h1M8 83.5h1M10 83.5h1M15 83.5h1M17 83.5h1M19 83.5h1M21 83.5h3M27 83.5h1M29 83.5h2M33 83.5h2M36 83.5h2M40 83.5h1M42 83.5h1M44 83.5h3M50 83.5h1M52 83.5h1M54 83.5h1M59 83.5h1M63 83.5h1M65 83.5h1M69 83.5h1M72 83.5h1M74 83.5h1M76 83.5h1M80 83.5h3M85 83.5h1M87 83.5h1M89 83.5h2M92 83.5h1M95 83.5h1M1 84.5h1M3 84.5h1M5 84.5h1M7 84.5h1M9 84.5h3M13 84.5h1M15 84.5h1M23 84.5h1M26 84.5h2M29 84.5h1M32 84.5h1M34 84.5h2M38 84.5h1M40 84.5h1M42 84.5h3M48 84.5h1M53 84.5h1M55 84.5h3M61 84.5h1M67 84.5h1M70 84.5h1M73 84.5h1M84 84.5h1M91 84.5h1M1 85.5h1M8 85.5h1M12 85.5h1M15 85.5h1M17 85.5h2M21 85.5h1M23 85.5h1M25 85.5h2M29 85.5h1M31 85.5h1M36 85.5h1M40 85.5h2M44 85.5h1M49 85.5h1M51 85.5h3M55 85.5h1M58 85.5h2M61 85.5h1M64 85.5h2M67 85.5h1M69 85.5h1M71 85.5h1M74 85.5h1M78 85.5h1M81 85.5h3M85 85.5h5M92 85.5h1M94 85.5h1M3 86.5h1M5 86.5h1M9 86.5h1M11 86.5h2M14 86.5h1M17 86.5h1M20 86.5h1M25 86.5h1M28 86.5h1M30 86.5h1M34 86.5h1M37 86.5h2M41 86.5h2M46 86.5h1M48 86.5h1M54 86.5h2M58 86.5h1M64 86.5h1M67 86.5h1M70 86.5h1M74 86.5h1M77 86.5h1M81 86.5h1M87 86.5h1M90 86.5h1M92 86.5h2M2 87.5h2M5 87.5h3M12 87.5h1M16 87.5h2M21 87.5h2M24 87.5h1M28 87.5h1M31 87.5h1M33 87.5h1M36 87.5h1M39 87.5h1M44 87.5h2M49 87.5h3M53 87.5h1M58 87.5h2M61 87.5h2M64 87.5h1M66 87.5h1M71 87.5h2M74 87.5h2M77 87.5h1M79 87.5h1M83 87.5h2M86 87.5h2M89 87.5h2M93 87.5h1M3 88.5h1M7 88.5h2M10 88.5h1M15 88.5h1M17 88.5h3M21 88.5h1M24 88.5h2M27 88.5h1M29 88.5h4M34 88.5h2M38 88.5h2M41 88.5h1M45 88.5h4M51 88.5h1M54 88.5h1M58 88.5h2M61 88.5h1M63 88.5h1M65 88.5h1M68 88.5h1M70 88.5h1M73 88.5h1M81 88.5h1M83 88.5h1M85 88.5h1M91 88.5h1M93 88.5h1M95 88.5h1M2 89.5h1M4 89.5h2M7 89.5h1M12 89.5h3M16 89.5h1M19 89.5h1M21 89.5h2M32 89.5h1M34 89.5h1M36 89.5h1M40 89.5h1M42 89.5h1M44 89.5h1M47 89.5h1M51 89.5h1M53 89.5h1M56 89.5h1M58 89.5h1M62 89.5h1M64 89.5h1M66 89.5h1M68 89.5h1M70 89.5h2M75 89.5h1M78 89.5h3M82 89.5h1M85 89.5h2M88 89.5h3M93 89.5h1M95 89.5h1M0 90.5h1M2 90.5h1M7 90.5h4M19 90.5h1M21 90.5h2M24 90.5h1M26 90.5h1M31 90.5h1M33 90.5h1M35 90.5h1M37 90.5h1M39 90.5h1M51 90.5h1M54 90.5h3M61 90.5h1M64 90.5h1M66 90.5h2M71 90.5h1M73 90.5h1M75 90.5h1M77 90.5h1M79 90.5h1M82 90.5h1M85 90.5h1M88 90.5h1M91 90.5h1M93 90.5h1M1 91.5h3M5 91.5h2M11 91.5h2M14 91.5h3M20 91.5h2M24 91.5h1M27 91.5h1M29 91.5h2M32 91.5h1M35 91.5h1M38 91.5h1M41 91.5h2M44 91.5h1M46 91.5h4M53 91.5h1M59 91.5h1M68 91.5h2M72 91.5h2M76 91.5h1M78 91.5h2M81 91.5h1M83 91.5h1M85 91.5h1M89 91.5h1M91 91.5h1M93 91.5h1M8 92.5h3M16 92.5h1M18 92.5h1M22 92.5h2M25 92.5h1M29 92.5h1M33 92.5h2M36 92.5h2M43 92.5h1M45 92.5h1M47 92.5h1M49 92.5h1M52 92.5h1M55 92.5h1M60 92.5h1M63 92.5h1M66 92.5h1M70 92.5h1M73 92.5h2M76 92.5h1M82 92.5h3M87 92.5h1M89 92.5h1M91 92.5h1M93 92.5h3M0 93.5h1M3 93.5h3M8 93.5h1M12 93.5h1M14 93.5h1M17 93.5h1M20 93.5h1M24 93.5h1M28 93.5h3M32 93.5h1M35 93.5h1M37 93.5h1M41 93.5h2M44 93.5h2M49 93.5h1M51 93.5h1M54 93.5h1M56 93.5h2M61 93.5h2M65 93.5h1M67 93.5h1M69 93.5h1M71 93.5h1M74 93.5h3M78 93.5h2M84 93.5h1M87 93.5h1M91 93.5h1M95 93.5h1M1 94.5h1M5 94.5h1M10 94.5h1M13 94.5h1M16 94.5h1M19 94.5h2M24 94.5h1M27 94.5h2M33 94.5h1M40 94.5h1M42 94.5h1M45 94.5h3M51 94.5h1M53 94.5h1M55 94.5h2M61 94.5h2M65 94.5h2M68 94.5h1M70 94.5h1M72 94.5h2M75 94.5h1M80 94.5h3M84 94.5h1M86 94.5h1M88 94.5h2M95 94.5h1M0 95.5h1M2 95.5h2M7 95.5h3M11 95.5h2M14 95.5h1M16 95.5h1M18 95.5h1M20 95.5h1M23 95.5h2M26 95.5h1M28 95.5h1M30 95.5h2M34 95.5h1M36 95.5h2M43 95.5h2M46 95.5h1M48 95.5h1M50 95.5h2M54 95.5h1M57 95.5h1M59 95.5h1M62 95.5h1M66 95.5h3M71 95.5h1M74 95.5h1M76 95.5h1M78 95.5h3M86 95.5h3M91 95.5h1M93 95.5h3" stroke="#000" stroke-width="1" fill="none" shape-rendering="crispEdges"/></pattern>
<rect width="768" height="614" fill="#467a50"/>
<rect width="768" height="614" fill="url(#nzp)"/>
<text x="116.4" y="113" font-size="15.5" fill="#474549" font-weight="normal" text-anchor="middle" textLength="103.5" lengthAdjust="spacingAndGlyphs" stroke="#333036" stroke-width="1.3" paint-order="stroke">Business Owner</text>
<text x="538.5" y="113" font-size="15.5" fill="#474549" font-weight="normal" text-anchor="middle" textLength="65" lengthAdjust="spacingAndGlyphs" stroke="#333036" stroke-width="1.3" paint-order="stroke">End Users</text>
<text x="649" y="113" font-size="15.5" fill="#474549" font-weight="normal" text-anchor="middle" textLength="97" lengthAdjust="spacingAndGlyphs" stroke="#333036" stroke-width="1.3" paint-order="stroke">Domain Expert</text>
<rect x="14.6" y="131.1" width="741.3" height="467.3" rx="12" fill="#eceff1"/>
<rect x="15.7" y="132.2" width="739.1" height="465.1" rx="11" fill="none" stroke="#1c7fd8" stroke-width="2.4" stroke-dasharray="1 4.7" stroke-linecap="round"/>
<polygon fill="#a5d6a7" points="176.4,81.2 202.6,81.2 196.1,87.6 271.1,162.6 277,156.2 277,181.5 251.9,181.5 257.9,175.5 182.9,100.8 176.4,107.2"/>
<polygon fill="#a5d6a7" points="487.9,81.2 461.7,81.2 468.2,87.6 392.6,162.6 386.6,156.2 386.6,181.5 412.2,181.5 405.8,175.5 481.4,100.8 487.9,107.2"/>
<text transform="translate(440.5,133.5) rotate(-45)" font-size="10" fill="#5f6f6c" text-anchor="middle" textLength="41" lengthAdjust="spacingAndGlyphs">Influence</text>
<text x="28" y="172.2" font-size="35" fill="#1e9ac7" font-weight="bold" text-anchor="start" textLength="188" lengthAdjust="spacingAndGlyphs">Scrum Team</text>
<rect x="234.5" y="216" width="202.5" height="94.5" rx="16" fill="#c48aa5" stroke="#fff" stroke-width="3"/>
<rect x="33.5" y="436.3" width="164.5" height="90.6" rx="16" fill="#f0a96e" stroke="#fff" stroke-width="3"/>
<rect x="404.2" y="369.9" width="326.8" height="207.4" rx="16" fill="#a6d1c6" stroke="#fff" stroke-width="3"/>
<g transform="translate(116.7,50.5)" clip-path="url(#cc)"><circle r="40" fill="#e9d96e"/><path fill="#3a3a3c" d="M-35,46 L-30,31.5 L-27,26.5 C-24,21.5 -18,16.5 -8,12.5 L8,12.5 C18,16.5 24,21.5 27,26.5 L30,31.5 L35,46 Z"/><rect x="-6.5" y="4" width="13.0" height="10" fill="#e9b98a"/><path fill="#fff" d="M-7.2,11 L7.2,11 L6.8,22 L0,36 L-6.8,22 Z"/><path fill="#2b95f0" d="M-2.6,19 L2.6,19 L2,23 L3.4,37 L0,40 L-3.4,37 L-2,23 Z"/><path fill="#3a3a3c" d="M-7.2,11 L-9,12 L-4,40 L-7.2,40 Z M7.2,11 L9,12 L4,40 L7.2,40 Z"/><path fill="#f5c69a" d="M-12.6,-12 C-12.6,-25 12.6,-25 12.6,-12 L12.6,-6.5 C12.299999999999999,3.5 6.3,10.5 0,10.5 C-6.3,10.5 -12.299999999999999,3.5 -12.6,-6.5 Z"/><path fill="#8a5e41" d="M-14.4,-4 C-15.5,-16 -14,-26 -3,-27 C5,-28.5 15.5,-25 14.6,-12 L14.4,-4 L12.6,-5 C13,-12 12.5,-19 7,-20.5 C3,-18 -3,-18 -7,-20.5 C-12.5,-19 -13,-12 -12.6,-5 Z"/><path fill="#6e4631" d="M-7.5,2.2 C-5,-0.4 -2,-0.2 0,0.4 C2,-0.2 5,-0.4 7.5,2.2 C5,1.4 2,1.6 0,1.9 C-2,1.6 -5,1.4 -7.5,2.2 Z"/></g>
<g transform="translate(538.9,50.6)" clip-path="url(#cc)"><circle r="40" fill="#7fcbfa"/><path fill="#c9c9cb" d="M-35.2,46 L-30.2,30.5 L-27.2,25.5 C-24.2,20.5 -18,18.5 -8,14.5 L8,14.5 C18,18.5 24.2,20.5 27.2,25.5 L30.2,30.5 L35.2,46 Z"/><path fill="#fff" d="M-7.6,12 L7.6,12 L7,40 L-7,40 Z"/><path fill="#6d6d6f" d="M-7.7,13.5 L-15.8,21.5 L-14.4,28.5 L-10.8,30 L-12.8,32 L-5.5,40 L-2.6,40 Z M7.7,13.5 L14.4,21.5 L13.2,28.5 L9.8,30 L11.8,32 L4.9,40 L2.0,40 Z"/><path fill="#303032" d="M-2.4,20.5 L2.4,20.5 L1.8,24.5 L3,39 L-3,39 L-1.8,24.5 Z"/><rect x="-6" y="6" width="12" height="7" fill="#d39e70"/><path fill="#2f2f31" d="M-14.1,-10 C-14.1,-23 13.700000000000001,-23 13.700000000000001,-10 L13.700000000000001,-4.0 C13.4,6.0 6.75,13.0 -0.2,13.0 C-7.15,13.0 -13.799999999999999,6.0 -14.1,-4.0 Z"/><path fill="#e0ac7e" d="M-12.799999999999999,-10 C-12.799999999999999,-23 12.4,-23 12.4,-10 L12.4,-5.6 C12.1,4.4 6.1,11.4 -0.2,11.4 C-6.5,11.4 -12.499999999999998,4.4 -12.799999999999999,-5.6 Z"/><path fill="#303032" d="M-14.2,-2 C-15,-12 -15.5,-22 -8,-25 C-2,-28 6,-27 13,-26.5 C14.5,-26.5 14.8,-25 14.2,-23 C13.5,-18 14.5,-10 14.2,-2 L12.6,-4 C12.5,-10 11,-15 9,-17.5 C4,-15 -5,-14 -9,-14.5 C-11.5,-13 -12.5,-9 -12.6,-4 Z"/><g fill="none" stroke="#3a3330" stroke-width="1.25"><rect x="-10.0" y="-9.9" width="8.6" height="5.8" rx="2.2"/><rect x="1.3999999999999995" y="-9.9" width="8.6" height="5.8" rx="2.2"/><path d="M-1.4,-8.0 L1.4,-8.0 M-10.0,-8.5 L-13,-9.0 M10.0,-8.5 L13,-9.0" fill="none"/></g></g>
<g transform="translate(649.4,50.5)" clip-path="url(#cc)"><circle r="40" fill="#b9bc6e"/><path fill="#3e2217" d="M-17.5,-6 C-18.5,-22 -8,-30 2,-29 C8,-29 10,-26 11,-24 C17,-24 20,-14 18.8,-4 C18,4 15,8 16.5,12 C17,14 18,15 19,15.5 C15,19 9,18 7,14 L-6,14 C-8,18 -13,19 -17,16.5 C-15,15 -13.5,12 -14,8 C-14.5,3 -17,0 -17.5,-6 Z"/><path fill="#92278f" d="M-35.7,46 L-30.7,30 L-27.7,25 C-24.7,20 -18,21.5 -8,17.5 L8,17.5 C18,21.5 24.7,20 27.7,25 L30.7,30 L35.7,46 Z"/><rect x="-5.2" y="6" width="10.4" height="16" fill="#f0c8b0"/><path fill="#f6d5c0" d="M-11.4,-8 C-11.4,-21 14.200000000000001,-21 14.200000000000001,-8 L14.200000000000001,-5 C13.9,5 7.800000000000001,12 1.4,12 C-5.0,12 -11.1,5 -11.4,-5 Z"/><path fill="#3e2217" d="M-11.6,-3 C-13,-16 -6,-24 4,-22 C7,-21.5 9,-20 10.5,-18 C4,-13 -5,-11 -11,-11.5 Z"/><path fill="#3e2217" d="M9,-20 C14,-14 15.5,-8 14.2,-1 L16.5,-5 L16,-16 Z"/><path fill="#fff" d="M-10.6,17.5 L-5,13.5 L0,22.5 L5,13.5 L10.6,17.5 L5.5,26.5 L0,22.5 L-5.5,26.5 Z"/><rect x="-0.9" y="22" width="1.8" height="20" fill="#f4e6f2"/></g>
<g transform="translate(334.8,193.5)" clip-path="url(#cc)"><circle r="40" fill="#b5651b"/><path fill="#1c75bc" d="M-37.5,46 L-32.5,29 L-29.5,24 C-26.5,19 -18,15 -8,11 L8,11 C18,15 26.5,19 29.5,24 L32.5,29 L37.5,46 Z"/><path fill="#f3f3f3" d="M-6.5,9 L6.5,9 L6,25 L0,36 L-6,25 Z"/><path fill="#29a3dc" d="M-7,9.5 L-14.5,13 L-13.5,23.5 L-15,25 L-9.5,38 L-2,40 L0,36 Z M7,9.5 L14.5,13 L13.5,23.5 L15,25 L9.5,38 L2,40 L0,36 Z"/><path fill="#e52222" d="M-2,12.5 L0,11.5 L2,12.5 L1.8,16.5 L3.2,28 L0,36 L-3.2,28 L-1.8,16.5 Z"/><rect x="-7" y="2" width="14" height="8.5" fill="#e2ad82"/><ellipse cx="-14.6" cy="-12.5" rx="2.4" ry="3.6" fill="#edbc93"/><ellipse cx="14" cy="-12.5" rx="2.4" ry="3.6" fill="#edbc93"/><path fill="#edbc93" d="M-12.9,-17 C-12.9,-30 12.299999999999999,-30 12.299999999999999,-17 L12.299999999999999,-11.8 C11.999999999999998,-1.7999999999999998 6.0,5.2 -0.3,5.2 C-6.6,5.2 -12.6,-1.7999999999999998 -12.9,-11.8 Z"/><path fill="#1c1c1e" d="M-13.8,-16.5 C-15,-26 -10,-33 -2,-34 C7,-35 14,-29 14,-22 C14.2,-19 13,-17.5 11.5,-16.5 C7,-18 5,-23 4.5,-27 C2,-24 -3,-23.5 -6,-23.5 C-10,-22.5 -12.5,-20 -13.8,-16.5 Z"/></g>
<g transform="translate(114.1,414.2)" clip-path="url(#cc)"><circle r="40" fill="#79d279"/><path fill="#0c0c0e" d="M-37.8,46 L-32.8,29 L-29.8,24 C-26.8,19 -18,14 -8,10 L8,10 C18,14 26.8,19 29.8,24 L32.8,29 L37.8,46 Z"/><path fill="#fff" d="M-8,9.5 L8,9.5 L7.4,22 L0,38 L-7.4,22 Z"/><path fill="#1e9be0" d="M-2.8,19 L0,17.5 L2.8,19 L2.2,23 L3.6,38 L-3.6,38 L-2.2,23 Z"/><path fill="#0c0c0e" d="M-8,9.5 L-10,10.5 L-5,40 L-8,40 Z M8,9.5 L10,10.5 L5,40 L8,40 Z M-7.4,22 L-3,20 L-4.8,40 Z M7.4,22 L3,20 L4.8,40 Z"/><rect x="-7" y="4" width="14" height="6" fill="#cf9c72"/><path fill="#cf9c72" d="M-7,10 L7,10 L0,13.5 Z"/><ellipse cx="-15" cy="-9.5" rx="2" ry="3.4" fill="#e0ae84"/><ellipse cx="15" cy="-9.5" rx="2" ry="3.4" fill="#e0ae84"/><path fill="#e0ae84" d="M-13.6,-16 C-13.6,-29 13.6,-29 13.6,-16 L13.6,-7 C13.299999999999999,3 6.8,10 0,10 C-6.8,10 -13.299999999999999,3 -13.6,-7 Z"/><path fill="#1c1c1e" d="M-14.6,-14.5 C-17.5,-24 -13,-32 -2,-34.5 C8,-36 17,-30 16,-19 L15,-14.5 C12,-17 9,-20 7,-24 C8,-21 8,-19.5 7,-18.5 C2,-19.5 -4,-22 -7.5,-25 C-9,-20 -11.5,-16.5 -14.6,-14.5 Z"/><g fill="none" stroke="#f3e8e4" stroke-width="1.0"><rect x="-11.100000000000001" y="-12.0" width="9.8" height="7.6" rx="2.2"/><rect x="1.2999999999999998" y="-12.0" width="9.8" height="7.6" rx="2.2"/><path d="M-1.3,-9.2 L1.3,-9.2 M-11.100000000000001,-9.7 L-14.5,-10.2 M11.100000000000001,-9.7 L14.5,-10.2" fill="none"/></g></g>
<g transform="translate(471.3,348.9)" clip-path="url(#cc)"><circle r="40" fill="#ffc145"/><path fill="#d0d0d2" d="M-35.2,46 L-30.2,31.5 L-27.2,26.5 C-24.2,21.5 -18,18 -8,14 L8,14 C18,18 24.2,21.5 27.2,26.5 L30.2,31.5 L35.2,46 Z"/><path fill="#fff" d="M-7.8,11.5 L7.2,11.5 L6.6,24 L3,25.5 L-0.3,21 L-3.6,25.5 L-7.2,24 Z"/><path fill="#2c2c2e" d="M-2.7,21.5 L-0.3,20 L2.1,21.5 L1.6,25 L2.8,38 L-3.4,38 L-2.2,25 Z"/><rect x="-6.2" y="6" width="12.4" height="7" fill="#cf9b6f"/><path fill="#cf9b6f" d="M-6.2,13 L6.2,13 L0,15 Z"/><path fill="#dfaa7c" d="M-13.2,-10 C-13.2,-23 12.0,-23 12.0,-10 L12.0,-5 C11.7,5 5.7,12 -0.6,12 C-6.8999999999999995,12 -12.899999999999999,5 -13.2,-5 Z"/><path fill="#2c2c2e" d="M-14.6,-1 C-15.5,-12 -15.5,-21.5 -8,-24.5 C-2,-27.5 6,-27 12,-25.5 C13.8,-25 13.8,-23 13.2,-21.5 C12.6,-16 13.6,-8 13.2,-1.5 L12,-4 C12,-10 10.5,-15 8.5,-17 C4,-15 -5,-14 -9,-14.5 C-11.6,-13 -13,-9 -13.2,-4 Z"/></g>
<g transform="translate(572.8,348.9)" clip-path="url(#cc)"><circle r="40" fill="#46abd6"/><path fill="#1b1464" d="M-36.9,46 L-31.9,29.5 L-28.9,24.5 C-25.9,19.5 -18,14.5 -8,10.5 L8,10.5 C18,14.5 25.9,19.5 28.9,24.5 L31.9,29.5 L36.9,46 Z"/><path fill="#fff" d="M-7.8,7.5 L7.8,7.5 L7.6,20 L4,22.5 L0.2,17.5 L-3.8,22.5 L-7.4,20 Z"/><path fill="#8c8c8e" d="M-2.6,19.5 L0.2,17.5 L3,19.5 L2.6,23 L4,38.5 L-3.8,38.5 L-2.2,23 Z"/><rect x="-6.8" y="2" width="13.6" height="7" fill="#e5b78f"/><path fill="#e5b78f" d="M-6.8,9 L6.8,9 L0,11.5 Z"/><path fill="#f5cda7" d="M-13.2,-15 C-13.2,-28 13.2,-28 13.2,-15 L13.2,-8.6 C12.899999999999999,1.4000000000000004 6.6,8.4 0,8.4 C-6.6,8.4 -12.899999999999999,1.4000000000000004 -13.2,-8.6 Z"/><path fill="#323234" d="M-14.6,-6 C-15,-12 -14.5,-16 -13.5,-19 C-17,-19.5 -20.5,-23 -20,-27 C-19.5,-28.5 -18,-28.5 -17,-27.5 C-14,-31 -6,-33.5 2,-33 C10,-32.5 15.5,-27 15,-18 L14.6,-7 L13.2,-9 C13.2,-14 12,-18.5 9,-22 C7,-20.5 5,-21.5 3.5,-20.5 C0,-18 -6,-16.5 -11.5,-17 C-12.8,-14 -13.2,-12 -13.2,-9 Z"/></g>
<g transform="translate(669.0,348.9)" clip-path="url(#cc)"><circle r="40" fill="#b5a797"/><path fill="#614e3d" d="M-20,22 C-20.5,5 -21,-10 -17.5,-19 C-14,-27 -5,-29 0,-28.6 C7,-29 15,-26 17.5,-18 C20,-8 18.6,6 19,22 Z"/><path fill="#d13438" d="M-36.9,46 L-31.9,28.8 L-28.9,23.8 C-25.9,18.8 -17,22 -7,18 L7,18 C17,22 25.9,18.8 28.9,23.8 L31.9,28.8 L36.9,46 Z"/><rect x="-5.8" y="6" width="11.6" height="18" fill="#eecba6"/><path fill="#d13438" d="M-6.5,21 C-3,25 3,25 6.5,21 L5.5,42 L-5.5,42 Z"/><path fill="#ededed" d="M-7,15.5 L-15.5,24 L-11,27 L-13,29.5 L-4,41 L-3.4,41 L-6,21.5 Z M7,15.5 L15.5,24 L11,27 L13,29.5 L4,41 L3.4,41 L6,21.5 Z"/><ellipse cx="-15" cy="-2.5" rx="2.6" ry="4" fill="#f6d9b5"/><ellipse cx="15" cy="-2.5" rx="2.6" ry="4" fill="#f6d9b5"/><path fill="#f6d9b5" d="M-13.2,-12 C-13.2,-25 13.2,-25 13.2,-12 L13.2,-5.6 C12.899999999999999,4.4 6.6,11.4 0,11.4 C-6.6,11.4 -12.899999999999999,4.4 -13.2,-5.6 Z"/><path fill="#614e3d" d="M-14,-4 C-15.5,-16 -12,-25 0,-25.5 C12,-25 15.5,-16 14,-4 C11,-7 5,-13 -0.6,-20.5 C-5,-13 -10,-7 -14,-4 Z"/><g fill="none" stroke="#2a8c9a" stroke-width="1.3"><rect x="-11.0" y="-8.3" width="9.8" height="7.8" rx="2.2"/><rect x="1.2000000000000002" y="-8.3" width="9.8" height="7.8" rx="2.2"/><path d="M-1.2,-5.4 L1.2,-5.4 M-11.0,-5.9 L-14.2,-6.4 M11.0,-5.9 L14.2,-6.4" fill="none"/></g></g>
<g transform="translate(471.4,470.2)" clip-path="url(#cc)"><circle r="40" fill="#7b8b87"/><path fill="#8b6249" d="M-18.2,-4 C-19,-20 -8,-28 1,-27 C12,-27 18,-18 18.2,-6 C18.5,2 16,6 17.5,11 C18.5,15 17,19.5 13,19.8 L-13,19.8 C-17,19.5 -18.5,15 -17.5,11 C-16,6 -17.5,2 -18.2,-4 Z"/><path fill="#237f86" d="M-35.7,46 L-30.7,30 L-27.7,25 C-24.7,20 -18,22 -8,18 L8,18 C18,22 24.7,20 27.7,25 L30.7,30 L35.7,46 Z"/><rect x="-5.2" y="6" width="10.4" height="16" fill="#efcab4"/><ellipse cx="-15.2" cy="-1.5" rx="2.6" ry="4.2" fill="#f7d7c3"/><ellipse cx="15.2" cy="-1.5" rx="2.6" ry="4.2" fill="#f7d7c3"/><path fill="#f7d7c3" d="M-12.899999999999999,-11 C-12.899999999999999,-24 13.5,-24 13.5,-11 L13.5,-5 C13.2,5 6.8999999999999995,12 0.3,12 C-6.3,12 -12.599999999999998,5 -12.899999999999999,-5 Z"/><path fill="#8b6249" d="M-14.2,-3 C-15.5,-15 -11,-24 1,-24.5 C11,-24.5 15,-17 14.4,-4 C13,-9 10,-15 4,-18.5 C1,-12 -5,-6.5 -12,-6 Z"/><path fill="#fff" d="M-10.6,18 L-5,14 L0,23 L5,14 L10.6,18 L5.5,27 L0,23 L-5.5,27 Z"/><rect x="-0.9" y="23" width="1.8" height="20" fill="#e6f2f2"/></g>
<g transform="translate(572.8,470.1)" clip-path="url(#cc)"><circle r="40" fill="#ff7f1e"/><path fill="#b9974a" d="M-17,-5 C-18,-19 -9,-28.5 1,-27.7 C11,-28 17,-19 16.4,-6 C16.5,2 15,10 11,16 L-11,16 C-15,10 -16.5,2 -17,-5 Z"/><path fill="#6e8da3" d="M-35.5,46 L-30.5,30 L-27.5,25 C-24.5,20 -17,23 -7,19 L7,19 C17,23 24.5,20 27.5,25 L30.5,30 L35.5,46 Z"/><rect x="-5.6" y="6" width="11.2" height="17" fill="#f0d0b8"/><path fill="#fff" d="M-6.5,17 C-3,24 3,24 6.5,17 L7,42 L-7,42 Z"/><path fill="#e6e6e8" d="M-6.2,16.5 L-15.2,24 L-11,28 L-13.5,30.5 L-7,41 L-4.5,41 L-5.6,23 Z M6.2,16.5 L15.2,24 L11,28 L13.5,30.5 L7,41 L4.5,41 L5.6,23 Z"/><ellipse cx="-15.4" cy="-1" rx="2.6" ry="4.2" fill="#f8dcc6"/><ellipse cx="15.4" cy="-1" rx="2.6" ry="4.2" fill="#f8dcc6"/><path fill="#f8dcc6" d="M-13.4,-11 C-13.4,-24 13.4,-24 13.4,-11 L13.4,-5 C13.1,5 6.7,12 0,12 C-6.7,12 -13.1,5 -13.4,-5 Z"/><path fill="#b9974a" d="M-14.4,-4 C-16,-16 -11,-25.5 0,-25.5 C11,-25.5 16,-17 14.6,-4 C14,-6 13,-7.5 11.5,-7 C5,-8 1,-14 -3,-19.5 C-8,-17 -13,-11 -14.4,-4 Z"/></g>
<g transform="translate(668.9,470.2)" clip-path="url(#cc)"><circle r="40" fill="#ebdd71"/><path fill="#1a1a1c" d="M-33.7,46 L-28.7,33 L-25.7,28 C-22.7,23 -17,16.5 -7,12.5 L7,12.5 C17,16.5 22.7,23 25.7,28 L28.7,33 L33.7,46 Z"/><path fill="#2c2c2e" d="M-6.5,10 L6.5,10 L5,40 L-5,40 Z"/><path fill="#d6139a" d="M-2.2,19.5 L0,18.5 L2.2,19.5 L1.8,23 L3,38.5 L-3,38.5 L-1.8,23 Z"/><rect x="-5.6" y="4" width="11.2" height="8" fill="#e3b48f"/><path fill="#e3b48f" d="M-5.6,12 L5.6,12 L0,17.5 Z"/><path fill="#f5c9a6" d="M-11.899999999999999,-9 C-11.899999999999999,-22 12.5,-22 12.5,-9 L12.5,-6.5 C12.2,3.5 6.3999999999999995,10.5 0.3,10.5 C-5.8,10.5 -11.599999999999998,3.5 -11.899999999999999,-6.5 Z"/><path fill="#66584a" d="M-12,-4 L-12,2 C-11.5,8 -5,11.6 0.3,11.6 C5.6,11.6 12.1,8 12.6,2 L12.6,-4 L11,-2 C10.5,3 8.5,5.5 6.5,6.5 C6.5,3 3.5,1 0.3,1 C-2.9,1 -5.9,3 -5.9,6.5 C-7.9,5.5 -9.9,3 -10.4,-2 Z"/><path fill="#f5c9a6" d="M-3.4,5 C-1.5,3.4 2.1,3.4 4,5 C2.5,6.5 -1.9,6.5 -3.4,5 Z"/><path fill="#66584a" d="M-13.2,-6 C-14.5,-16 -12,-24 -3,-26 C4,-27.5 10,-25 14,-20.5 C12.6,-17 13.2,-11 12.8,-6 L11.4,-8 C11.4,-12 10.5,-15.5 9,-17.5 C4,-15.5 -4,-14.5 -8,-15 C-10.5,-13.5 -11.6,-11 -11.8,-8 Z"/><g fill="none" stroke="#e91e9c" stroke-width="1.3"><rect x="-10.6" y="-7.7" width="9.6" height="7.4" rx="2.2"/><rect x="1.0" y="-7.7" width="9.6" height="7.4" rx="2.2"/><path d="M-1.0,-5 L1.0,-5 M-10.6,-5.5 L-12.4,-6 M10.6,-5.5 L12.4,-6" fill="none"/></g></g>
<text x="335.5" y="256.2" font-size="15.5" fill="#4a4a4a" font-weight="normal" text-anchor="middle" textLength="98" lengthAdjust="spacingAndGlyphs" stroke="#4a4a4a" stroke-width="0.25">Product Owner</text>
<text x="335.5" y="276" font-size="12" fill="#fff" font-weight="normal" text-anchor="middle" textLength="146" lengthAdjust="spacingAndGlyphs">Manages the Product Backlog.</text>
<text x="335.5" y="289.2" font-size="12" fill="#fff" font-weight="normal" text-anchor="middle" textLength="174" lengthAdjust="spacingAndGlyphs">Optimizes the value of the Product.</text>
<text x="113" y="477.2" font-size="15.5" fill="#4a4a4a" font-weight="normal" text-anchor="middle" textLength="90" lengthAdjust="spacingAndGlyphs" stroke="#4a4a4a" stroke-width="0.25">Scrum Master</text>
<text x="115" y="495.7" font-size="12" fill="#fff" font-weight="normal" text-anchor="middle" textLength="140" lengthAdjust="spacingAndGlyphs">Manages the Scrum Process.</text>
<text x="115" y="509.6" font-size="12" fill="#fff" font-weight="normal" text-anchor="middle" textLength="112" lengthAdjust="spacingAndGlyphs">Remove Impediments.</text>
<text x="469.5" y="411.8" font-size="15" fill="#4a4a4a" font-weight="normal" text-anchor="middle" textLength="25.5" lengthAdjust="spacingAndGlyphs" stroke="#4a4a4a" stroke-width="0.5">Dev</text>
<text x="571" y="411.8" font-size="15" fill="#4a4a4a" font-weight="normal" text-anchor="middle" textLength="22" lengthAdjust="spacingAndGlyphs" stroke="#4a4a4a" stroke-width="0.5">QA</text>
<text x="670.5" y="411.8" font-size="15" fill="#4a4a4a" font-weight="normal" text-anchor="middle" textLength="25.5" lengthAdjust="spacingAndGlyphs" stroke="#4a4a4a" stroke-width="0.5">Dev</text>
<text x="472" y="532.4" font-size="15" fill="#4a4a4a" font-weight="normal" text-anchor="middle" textLength="108.5" lengthAdjust="spacingAndGlyphs" stroke="#4a4a4a" stroke-width="0.5">Business Analyst</text>
<text x="573.5" y="532.4" font-size="15" fill="#4a4a4a" font-weight="normal" text-anchor="middle" textLength="58" lengthAdjust="spacingAndGlyphs" stroke="#4a4a4a" stroke-width="0.5">Architect</text>
<text x="670.5" y="532.4" font-size="15" fill="#4a4a4a" font-weight="normal" text-anchor="middle" textLength="25.5" lengthAdjust="spacingAndGlyphs" stroke="#4a4a4a" stroke-width="0.5">Dev</text>
<text x="566.5" y="560.2" font-size="11.5" fill="#f4faf8" font-weight="normal" text-anchor="middle" textLength="200" lengthAdjust="spacingAndGlyphs">Manages itself.&#160;&#160;Create Done Increments.</text>
</svg>
</body></html>
